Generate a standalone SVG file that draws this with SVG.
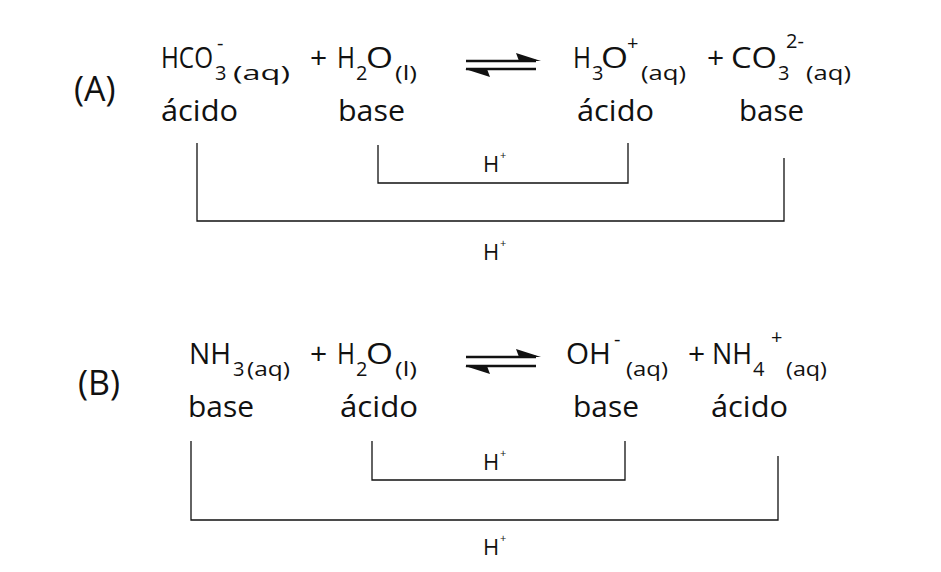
<svg xmlns="http://www.w3.org/2000/svg" width="941" height="572" viewBox="0 0 941 572">
<style>
text{font-family:"Open Sans","Liberation Sans",sans-serif;fill:#111}
.m{font-size:30px}.s{font-size:20px}.l{font-size:34px}.h{font-size:22px}.hs{font-size:11px}
.ln{stroke:#111;stroke-width:1.3;fill:none}
.ar{stroke:#111;stroke-width:2.5;fill:none}
</style>
<rect width="941" height="572" fill="#fff"/>
<g id="eqA">
<text class="l" x="74" y="101">(A)</text>
<text class="m" x="161" y="68" textLength="52" lengthAdjust="spacingAndGlyphs">HCO</text><text class="s" x="215" y="80">3</text><text class="s" x="217" y="50">-</text><text class="s" x="233" y="80" textLength="57" lengthAdjust="spacingAndGlyphs">(aq)</text>
<text class="m" x="310" y="68">+</text><text class="m" x="337" y="68" textLength="18" lengthAdjust="spacingAndGlyphs">H</text><text class="s" x="356" y="80">2</text><text class="m" x="366" y="68" textLength="27" lengthAdjust="spacingAndGlyphs">O</text><text class="s" x="395" y="80" textLength="22" lengthAdjust="spacingAndGlyphs">(l)</text>
<text class="m" x="573" y="68" textLength="18" lengthAdjust="spacingAndGlyphs">H</text><text class="s" x="592" y="80">3</text><text class="m" x="601" y="68" textLength="27" lengthAdjust="spacingAndGlyphs">O</text><text class="s" x="627" y="50">+</text><text class="s" x="641" y="80" textLength="45" lengthAdjust="spacingAndGlyphs">(aq)</text>
<text class="m" x="707" y="68">+</text><text class="m" x="731" y="68" textLength="46" lengthAdjust="spacingAndGlyphs">CO</text><text class="s" x="778" y="80">3</text><text class="s" x="786" y="48">2-</text><text class="s" x="806" y="80" textLength="45" lengthAdjust="spacingAndGlyphs">(aq)</text>
<text class="m" x="161" y="121" textLength="77" lengthAdjust="spacingAndGlyphs">ácido</text><text class="m" x="338" y="121" textLength="67" lengthAdjust="spacingAndGlyphs">base</text><text class="m" x="577" y="121" textLength="77" lengthAdjust="spacingAndGlyphs">ácido</text><text class="m" x="739" y="121" textLength="65" lengthAdjust="spacingAndGlyphs">base</text>
</g>
<g id="eqB">
<text class="l" x="78" y="395">(B)</text>
<text class="m" x="189" y="364" textLength="42" lengthAdjust="spacingAndGlyphs">NH</text><text class="s" x="233" y="376">3</text><text class="s" x="247" y="376" textLength="43" lengthAdjust="spacingAndGlyphs">(aq)</text>
<text class="m" x="310" y="364">+</text><text class="m" x="337" y="364" textLength="18" lengthAdjust="spacingAndGlyphs">H</text><text class="s" x="356" y="376">2</text><text class="m" x="366" y="364" textLength="27" lengthAdjust="spacingAndGlyphs">O</text><text class="s" x="395" y="376" textLength="22" lengthAdjust="spacingAndGlyphs">(l)</text>
<text class="m" x="566" y="364" textLength="45" lengthAdjust="spacingAndGlyphs">OH</text><text class="s" x="614" y="346">-</text><text class="s" x="626" y="376" textLength="42" lengthAdjust="spacingAndGlyphs">(aq)</text>
<text class="m" x="688" y="364">+</text><text class="m" x="712" y="364" textLength="40" lengthAdjust="spacingAndGlyphs">NH</text><text class="s" x="753" y="376">4</text><text class="s" x="771" y="344">+</text><text class="s" x="786" y="376" textLength="41" lengthAdjust="spacingAndGlyphs">(aq)</text>
<text class="m" x="188" y="417" textLength="66" lengthAdjust="spacingAndGlyphs">base</text><text class="m" x="340" y="417" textLength="78" lengthAdjust="spacingAndGlyphs">ácido</text><text class="m" x="573" y="417" textLength="66" lengthAdjust="spacingAndGlyphs">base</text><text class="m" x="711" y="417" textLength="77" lengthAdjust="spacingAndGlyphs">ácido</text>
</g>
<g id="connectors">
<path class="ar" d="M466 61H536M466 69H536"/>
<polygon points="541,61 516,53 519,61" fill="#111"/>
<polygon points="465,69 490,77 487,69" fill="#111"/>
<path class="ar" d="M466 357H536M466 366H536"/>
<polygon points="541,357 516,349 519,357" fill="#111"/>
<polygon points="465,366 490,374 487,366" fill="#111"/>
<path class="ln" d="M378 145V183H628V143M197 143V221H784V158"/>
<path class="ln" d="M372 441V480H625V441M191 441V520H778V456"/>
</g>
<g id="labels">
<text class="h" x="483" y="172">H</text><text class="hs" x="500" y="159">+</text>
<text class="h" x="483" y="260">H</text><text class="hs" x="500" y="247">+</text>
<text class="h" x="483" y="470">H</text><text class="hs" x="500" y="457">+</text>
<text class="h" x="483" y="555">H</text><text class="hs" x="500" y="542">+</text>
</g>
</svg>
